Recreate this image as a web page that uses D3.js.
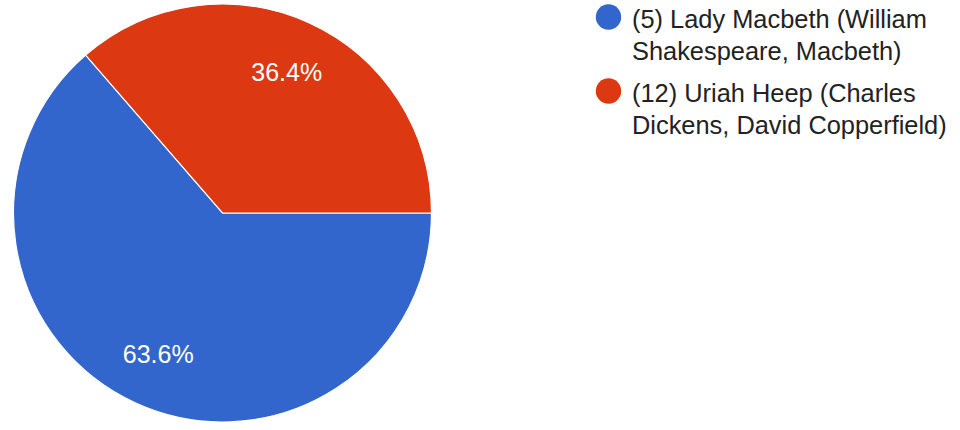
<!DOCTYPE html>
<html>
<head>
<meta charset="utf-8">
<script src="https://cdn.jsdelivr.net/npm/d3@7"></script>
<style>
  html, body { margin: 0; padding: 0; background: #fff; }
  svg { display: block; }
</style>
</head>
<body>
<div id="chart"></div>
<script>
// answers and counts (7 of 11, 4 of 11)
var labels = [
    ["(5) Lady Macbeth (William", "Shakespeare, Macbeth)"],
    ["(12) Uriah Heep (Charles", "Dickens, David Copperfield)"]
];
var counts = [7, 4];
var colors = ["#3366cc", "#dc3912"];

var WIDTH = 960, HEIGHT = 430;
var CX = 222.5, CY = 213, R = 209;

var svg = d3.select("#chart")
    .append("svg")
    .attr("width", WIDTH)
    .attr("height", HEIGHT);

var total = d3.sum(counts);

// google-style pie: first slice starts at 3 o'clock, goes clockwise
var pie = d3.pie()
    .sort(null)
    .startAngle(Math.PI / 2)
    .endAngle(Math.PI / 2 + 2 * Math.PI);

var arc = d3.arc().innerRadius(0).outerRadius(R);
var labelArc = d3.arc().innerRadius(R * 0.74).outerRadius(R * 0.74);

var g = svg.append("g").attr("transform", "translate(" + CX + "," + CY + ")");

var slices = pie(counts);

g.selectAll("path.slice")
    .data(slices)
    .enter()
    .append("path")
    .attr("class", "slice")
    .attr("d", arc)
    .attr("fill", function(d, i) { return colors[i]; })
    .attr("stroke", "#fff")
    .attr("stroke-width", 1.2);

var fmt = d3.format(".1%");

g.selectAll("text.pct")
    .data(slices)
    .enter()
    .append("text")
    .attr("class", "pct")
    .attr("x", function(d) { return labelArc.centroid(d)[0]; })
    .attr("y", function(d) { return labelArc.centroid(d)[1]; })
    .attr("dy", "0.36em")
    .attr("text-anchor", "middle")
    .attr("fill", "#fff")
    .attr("font-family", "'Liberation Sans', Arial, sans-serif")
    .attr("font-size", 25)
    .text(function(d) { return fmt(d.value / total); });

/* ---------- legend ---------- */
var LEG_X = 608.5, LEG_Y = 17, ITEM_GAP = 74, LINE_H = 32.3;

var legend = svg.append("g").attr("class", "legend");

var items = legend.selectAll("g.item")
    .data(labels)
    .enter()
    .append("g")
    .attr("class", "item")
    .attr("transform", function(d, i) { return "translate(" + LEG_X + "," + (LEG_Y + i * ITEM_GAP) + ")"; });

items.append("circle")
    .attr("r", 12.7)
    .attr("fill", function(d, i) { return colors[i]; });

items.append("text")
    .attr("x", 23.5)
    .attr("y", 10.5)
    .attr("fill", "#222")
    .attr("font-family", "'Liberation Sans', Arial, sans-serif")
    .attr("font-size", 25.4)
    .selectAll("tspan")
    .data(function(d) { return d; })
    .enter()
    .append("tspan")
    .attr("x", 23.5)
    .attr("dy", function(d, i) { return i === 0 ? 0 : LINE_H; })
    .text(function(d) { return d; });
</script>
</body>
</html>
